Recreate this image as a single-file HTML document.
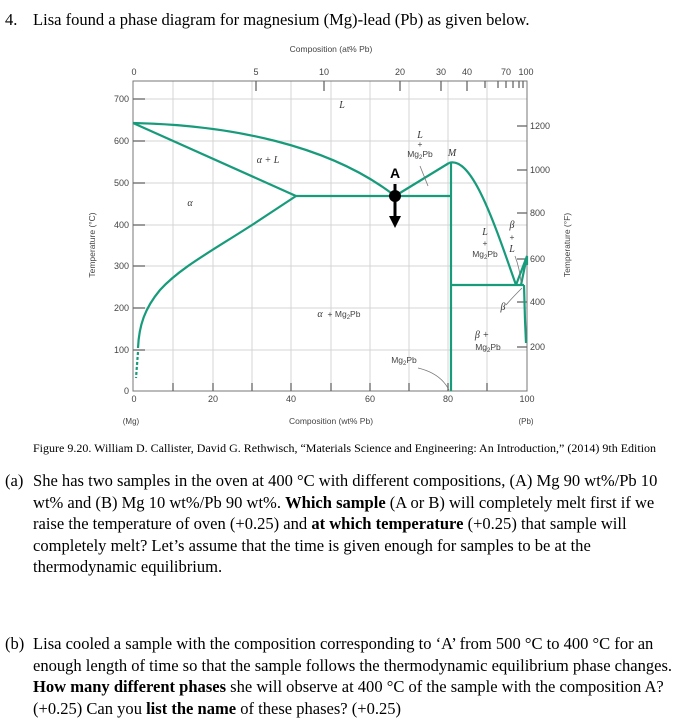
<!DOCTYPE html>
<html><head><meta charset="utf-8"><style>
body{margin:0;width:675px;height:721px;background:#fff;position:relative;overflow:hidden;font-family:"Liberation Serif",serif;color:#000}
.t{position:absolute;white-space:nowrap;font-size:16.55px;line-height:21.6px}
svg{position:absolute;left:0;top:0}
</style></head><body>
<div class="t" style="left:5px;top:9px">4.</div>
<div class="t" style="left:33px;top:9px">Lisa found a phase diagram for magnesium (Mg)-lead (Pb) as given below.</div>
<svg width="675" height="440" font-family="Liberation Sans, sans-serif">
<g stroke="#d4d4d4" stroke-width="1">
<line x1="173" y1="81" x2="173" y2="391"/><line x1="213" y1="81" x2="213" y2="391"/><line x1="252" y1="81" x2="252" y2="391"/><line x1="291" y1="81" x2="291" y2="391"/><line x1="331" y1="81" x2="331" y2="391"/><line x1="370" y1="81" x2="370" y2="391"/><line x1="409" y1="81" x2="409" y2="391"/><line x1="448" y1="81" x2="448" y2="391"/><line x1="487" y1="81" x2="487" y2="391"/>
<line x1="133" y1="99" x2="527" y2="99"/><line x1="133" y1="141" x2="527" y2="141"/><line x1="133" y1="183" x2="527" y2="183"/><line x1="133" y1="225" x2="527" y2="225"/><line x1="133" y1="266" x2="527" y2="266"/><line x1="133" y1="308" x2="527" y2="308"/><line x1="133" y1="350" x2="527" y2="350"/>
</g>
<rect x="133" y="81" width="394" height="310" fill="none" stroke="#777" stroke-width="1"/>
<g stroke="#666" stroke-width="1.3">
<line x1="133" y1="99" x2="145" y2="99"/><line x1="133" y1="141" x2="145" y2="141"/><line x1="133" y1="183" x2="145" y2="183"/><line x1="133" y1="225" x2="145" y2="225"/><line x1="133" y1="266" x2="145" y2="266"/><line x1="133" y1="308" x2="145" y2="308"/><line x1="133" y1="350" x2="145" y2="350"/>
<line x1="173" y1="391" x2="173" y2="383"/><line x1="213" y1="391" x2="213" y2="383"/><line x1="252" y1="391" x2="252" y2="383"/><line x1="291" y1="391" x2="291" y2="383"/><line x1="331" y1="391" x2="331" y2="383"/><line x1="370" y1="391" x2="370" y2="383"/><line x1="409" y1="391" x2="409" y2="383"/><line x1="448" y1="391" x2="448" y2="383"/><line x1="487" y1="391" x2="487" y2="383"/>
<line x1="256" y1="81" x2="256" y2="91"/><line x1="324" y1="81" x2="324" y2="91"/><line x1="400" y1="81" x2="400" y2="91"/><line x1="441" y1="81" x2="441" y2="91"/><line x1="467" y1="81" x2="467" y2="91"/><line x1="485" y1="81" x2="485" y2="88"/><line x1="498" y1="81" x2="498" y2="88"/><line x1="506" y1="81" x2="506" y2="88"/><line x1="513" y1="81" x2="513" y2="88"/><line x1="519" y1="81" x2="519" y2="88"/><line x1="523" y1="81" x2="523" y2="88"/>
<line x1="517" y1="126" x2="527" y2="126"/><line x1="517" y1="170" x2="527" y2="170"/><line x1="517" y1="213" x2="527" y2="213"/><line x1="517" y1="259" x2="527" y2="259"/><line x1="517" y1="302" x2="527" y2="302"/><line x1="517" y1="347" x2="527" y2="347"/>
</g>
<g font-size="9" fill="#444">
<g text-anchor="end"><text x="129" y="102">700</text><text x="129" y="144">600</text><text x="129" y="186">500</text><text x="129" y="228">400</text><text x="129" y="269">300</text><text x="129" y="311">200</text><text x="129" y="353">100</text><text x="129" y="394">0</text></g>
<g text-anchor="middle"><text x="134" y="402">0</text><text x="213" y="402">20</text><text x="291" y="402">40</text><text x="370" y="402">60</text><text x="448" y="402">80</text><text x="527" y="402">100</text>
<text x="134" y="75">0</text><text x="256" y="75">5</text><text x="324" y="75">10</text><text x="400" y="75">20</text><text x="441" y="75">30</text><text x="467" y="75">40</text><text x="506" y="75">70</text><text x="526" y="75">100</text>
<text x="131" y="424" font-size="8">(Mg)</text><text x="331" y="424" font-size="8.5">Composition (wt% Pb)</text><text x="526" y="424" font-size="8">(Pb)</text>
<text x="331" y="52" font-size="8.5">Composition (at% Pb)</text></g>
<text x="530" y="129">1200</text><text x="530" y="173">1000</text><text x="530" y="216">800</text><text x="530" y="262">600</text><text x="530" y="305">400</text><text x="530" y="350">200</text>
<text transform="translate(95,245) rotate(-90)" text-anchor="middle" font-size="8.5">Temperature (°C)</text>
<text transform="translate(570,245) rotate(-90)" text-anchor="middle" font-size="8.5">Temperature (°F)</text>
</g>
<g fill="none" stroke="#179b7b" stroke-width="2.2">
<path d="M133,123 C230,125 330,145 395,196"/>
<path d="M133,123 L296,196 L451,196"/>
<path d="M296,196 L252,225 C210,252 180,268 160,290 C145,308 139,325 138,348"/>
<path d="M138,352 L136,378" stroke-dasharray="3,2"/>
<path d="M395,196 L449,163"/>
<path d="M449,163 C472,155 495,225 516,285"/>
<path d="M451,163 L451,391"/>
<path d="M451,285 L524,285"/>
<path d="M516,285 L527,256 M521,285 L527,256 L527,265"/>
<path d="M524,285 L525,320 L526,343"/>
</g>
<g font-family="Liberation Serif, serif" font-style="italic" font-size="10" fill="#333" text-anchor="middle">
<text x="342" y="108">L</text><text x="420" y="138">L</text><text x="452" y="156">M</text>
<text x="268" y="163">α + L</text><text x="190" y="206">α</text><text x="485" y="235">L</text><text x="512" y="228">β</text><text x="512" y="252">L</text><text x="503" y="310">β</text><text x="482" y="338">β +</text><text x="320" y="317">α</text>
</g>
<g font-size="8.5" fill="#444" text-anchor="middle">
<text x="420" y="147">+</text><text x="420" y="157">Mg<tspan font-size="6" dy="2">2</tspan><tspan dy="-2">Pb</tspan></text>
<text x="485" y="246">+</text><text x="485" y="257">Mg<tspan font-size="6" dy="2">2</tspan><tspan dy="-2">Pb</tspan></text>
<text x="512" y="240">+</text>
<text x="488" y="350">Mg<tspan font-size="6" dy="2">2</tspan><tspan dy="-2">Pb</tspan></text>
<text x="344" y="317">+ Mg<tspan font-size="6" dy="2">2</tspan><tspan dy="-2">Pb</tspan></text>
<text x="404" y="363">Mg<tspan font-size="6" dy="2">2</tspan><tspan dy="-2">Pb</tspan></text>
</g>
<g fill="none" stroke="#777" stroke-width="0.8">
<path d="M420,166 L428,186"/><path d="M418,368 C435,372 444,380 449,390"/><path d="M506,305 C512,298 518,292 522,288"/><path d="M515,256 C518,264 520,272 521,282"/>
</g>
<text x="395" y="178" font-size="14" font-weight="bold" text-anchor="middle">A</text>
<line x1="395" y1="184" x2="395" y2="218" stroke="#000" stroke-width="3"/>
<path d="M389,216 L401,216 L395,228 Z" fill="#000"/>
<circle cx="395" cy="196" r="6" fill="#000"/>
</svg>
<div class="t" style="left:33px;top:438px;font-size:12px">Figure 9.20. William D. Callister, David G. Rethwisch, “Materials Science and Engineering: An Introduction,” (2014) 9th Edition</div>
<div class="t" style="left:5px;top:470px">(a)</div>
<div class="t" style="left:33px;top:470px">She has two samples in the oven at 400 °C with different compositions, (A) Mg 90 wt%/Pb 10<br>wt% and (B) Mg 10 wt%/Pb 90 wt%. <b>Which sample</b> (A or B) will completely melt first if we<br>raise the temperature of oven (+0.25) and <b>at which temperature</b> (+0.25) that sample will<br>completely melt? Let’s assume that the time is given enough for samples to be at the<br>thermodynamic equilibrium.</div>
<div class="t" style="left:5px;top:633px">(b)</div>
<div class="t" style="left:33px;top:633px">Lisa cooled a sample with the composition corresponding to ‘A’ from 500 °C to 400 °C for an<br>enough length of time so that the sample follows the thermodynamic equilibrium phase changes.<br><b>How many different phases</b> she will observe at 400 °C of the sample with the composition A?<br>(+0.25) Can you <b>list the name</b> of these phases? (+0.25)</div>
</body></html>
